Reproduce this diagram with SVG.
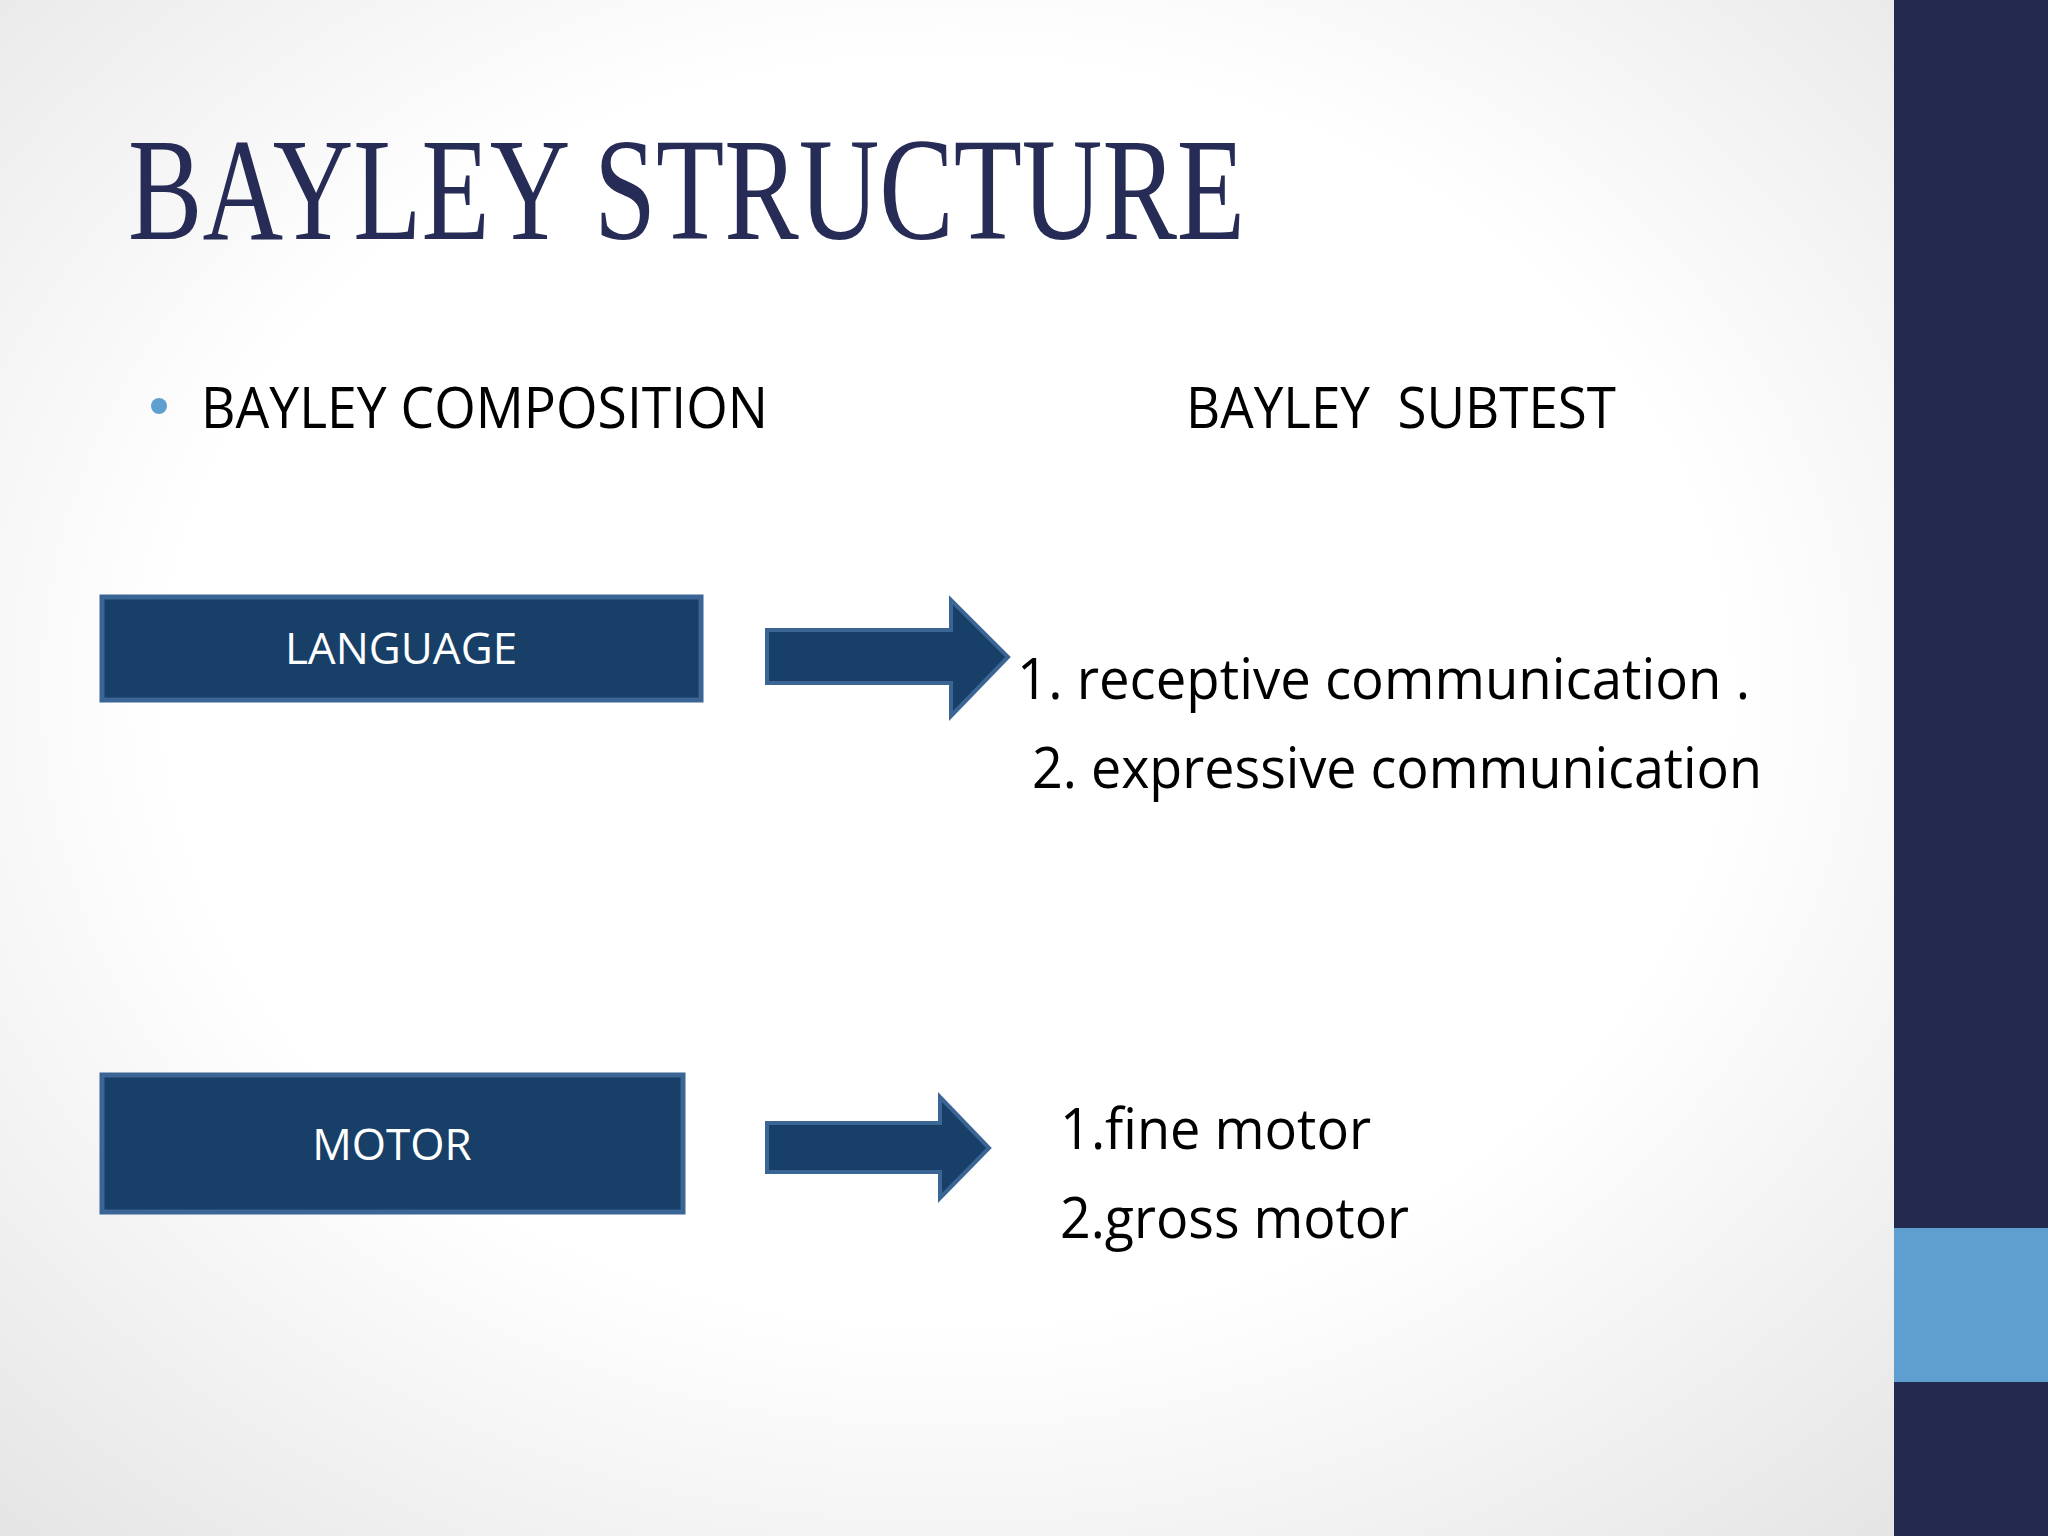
<svg xmlns="http://www.w3.org/2000/svg" width="2048" height="1536" viewBox="0 0 2048 1536">
<defs>
<radialGradient id="bg" cx="0.5" cy="0.45" r="0.75">
<stop offset="0.55" stop-color="#ffffff"/>
<stop offset="1" stop-color="#e4e4e4"/>
</radialGradient>
<style>
.box{fill:#173f68;stroke:#3a6594;stroke-width:5}
.arr{fill:#173f68;stroke:#3a6594;stroke-width:4}
.bt{font-family:"Open Sans","Noto Sans",sans-serif;fill:#ffffff;font-size:44px;text-anchor:middle}
.tx{font-family:"Open Sans","Noto Sans",sans-serif;fill:#000;font-size:56px}
</style>
</defs>
<rect width="1894" height="1536" fill="url(#bg)"/>
<rect x="1894" y="0" width="154" height="1536" fill="#24294f"/>
<rect x="1894" y="1228" width="154" height="154" fill="#5f9fcf"/>
<text x="128" y="239" font-family="Liberation Serif,serif" font-size="146" fill="#262c55" textLength="1117" lengthAdjust="spacingAndGlyphs">BAYLEY STRUCTURE</text>
<circle cx="159" cy="406" r="8" fill="#5f9fcf"/>
<text class="tx" x="201" y="428" textLength="567" lengthAdjust="spacingAndGlyphs">BAYLEY COMPOSITION</text>
<text class="tx" x="1186" y="428" textLength="430" lengthAdjust="spacingAndGlyphs" xml:space="preserve">BAYLEY  SUBTEST</text>
<g id="language">
<rect class="box" x="102" y="597" width="599" height="103"/>
<text class="bt" x="401" y="664">LANGUAGE</text>
</g>
<g id="motor">
<rect class="box" x="102" y="1075" width="581" height="137"/>
<text class="bt" x="392" y="1160">MOTOR</text>
</g>
<g id="connectors">
<polygon class="arr" points="767,630 951,630 951,600 1008,657 951,716 951,683 767,683"/>
<polygon class="arr" points="767,1123 940,1123 940,1097 989,1148 940,1198 940,1172 767,1172"/>
</g>
<g id="language-subtests">
<text class="tx" x="1017" y="699" textLength="733" lengthAdjust="spacingAndGlyphs">1. receptive communication .</text>
<text class="tx" x="1032" y="788" textLength="730" lengthAdjust="spacingAndGlyphs">2. expressive communication</text>
</g>
<g id="motor-subtests">
<text class="tx" x="1060" y="1149" textLength="311" lengthAdjust="spacingAndGlyphs">1.fine motor</text>
<text class="tx" x="1060" y="1238" textLength="349" lengthAdjust="spacingAndGlyphs">2.gross motor</text>
</g>
</svg>
